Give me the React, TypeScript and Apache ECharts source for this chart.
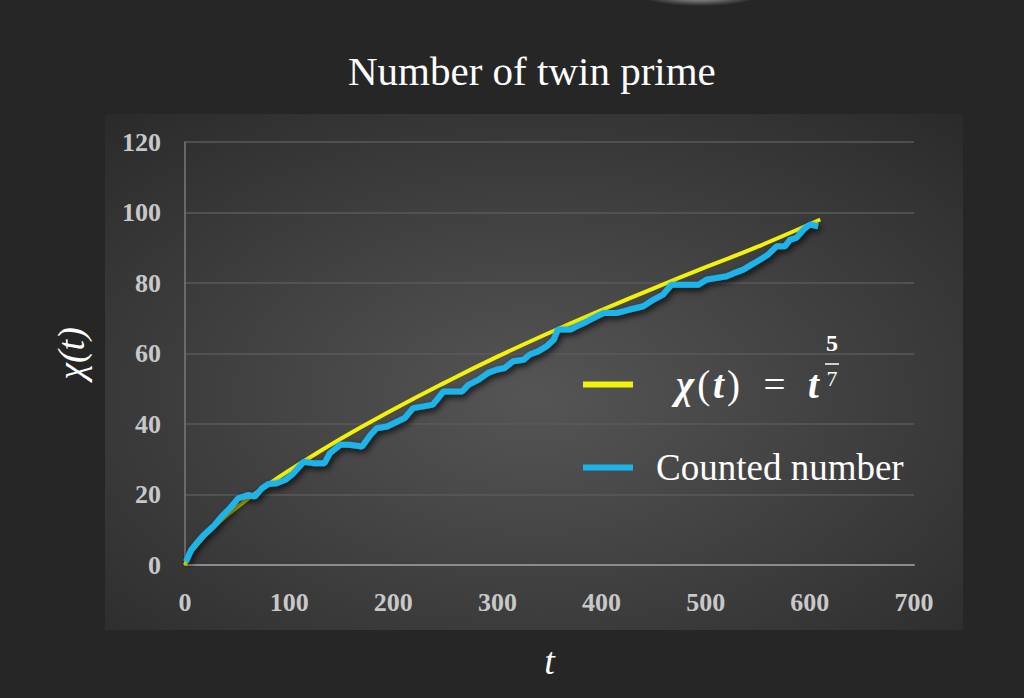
import React, { useEffect, useRef } from "react";
import * as echarts from "echarts";

const titleText = "Number of twin prime";
const formulaName = "χ(t) = t^(5/7)";
const countedName = "Counted number";

const xTicks = [0, 100, 200, 300, 400, 500, 600, 700];
const yTicks = [0, 20, 40, 60, 80, 100, 120];

// yellow curve
const formulaT = [0, 5, 10, 20, 30, 50, 75, 100, 150, 200, 250, 300, 350, 400, 450, 500, 550, 610];
const formulaY = [0, 3.2, 5.2, 8.5, 11.4, 16.4, 21.8, 26.8, 35.9, 44.1, 51.8, 59.1, 65.9, 72.3, 78.5, 84.5, 90.3, 98];

// blue stepped line
const countedT = [1, 6, 12, 18, 27, 35, 43, 51, 61, 67, 74, 80, 88, 96, 104, 114, 123, 134, 139, 149, 158, 170, 178, 184, 194, 206, 211, 219, 229, 238, 248, 259, 266, 272, 282, 291, 299, 307, 315, 325, 331, 339, 347, 354, 358, 370, 376, 386, 395, 402, 415, 426, 440, 450, 459, 467, 478, 493, 501, 510, 520, 527, 536, 544, 552, 560, 568, 576, 581, 587, 594, 600, 608];
const countedY = [1, 4.3, 6.5, 8.5, 10.9, 13.7, 16.1, 18.9, 19.9, 19.4, 21.8, 23, 23.2, 24.1, 26, 29.3, 28.9, 28.9, 31.7, 34.1, 34.1, 33.6, 36.9, 38.8, 39.3, 41, 41.7, 44.5, 45, 45.5, 49.2, 49.2, 49.2, 51.1, 52.6, 54.5, 55.4, 55.9, 57.8, 58.2, 59.7, 60.6, 62, 63.9, 66.8, 66.8, 67.7, 69.1, 70.5, 71.5, 71.5, 72.4, 73.4, 75.3, 76.7, 79.5, 79.5, 79.5, 81, 81.4, 81.9, 82.8, 83.8, 85.2, 86.6, 88.1, 90.4, 90.4, 92.3, 92.8, 95.2, 96.6, 96.1];

const SERIF = "'Liberation Serif', 'DejaVu Serif', serif";

export default function App() {
  const ref = useRef<HTMLDivElement>(null);
  useEffect(() => {
    if (!ref.current) return;
    const chart = echarts.init(ref.current, null, { renderer: "svg" });
    const formulaData = formulaT.map((t, i) => [t, formulaY[i]]);
    const countedData = countedT.map((t, i) => [t, countedY[i]]);
    chart.setOption({
      animation: false,
      backgroundColor: "#262626",
      title: {
        text: titleText,
        left: 348,
        top: 50,
        padding: 0,
        textStyle: { fontFamily: SERIF, fontSize: 41, fontWeight: "normal", color: "#ffffff" },
      },
      graphic: [
        {
          type: "rect",
          z: -10,
          shape: { x: 105, y: 114, width: 858, height: 516 },
          style: {
            fill: {
              type: "radial",
              x: 0.5,
              y: 0.55,
              r: 0.75,
              colorStops: [
                { offset: 0, color: "#555555" },
                { offset: 1, color: "#2a2a2a" },
              ],
            },
          },
        },
        {
          type: "ellipse",
          z: -10,
          shape: { cx: 700, cy: -4, rx: 58, ry: 10 },
          style: {
            fill: {
              type: "radial",
              x: 0.5,
              y: 0.5,
              r: 0.5,
              colorStops: [
                { offset: 0, color: "rgba(230,230,230,0.75)" },
                { offset: 1, color: "rgba(230,230,230,0)" },
              ],
            },
          },
        },
        {
          type: "text",
          x: 832,
          y: 343,
          style: { text: "5", fontFamily: SERIF, fontWeight: "bold", fontSize: 24, fill: "#ffffff", align: "center", verticalAlign: "middle" },
        },
        {
          type: "line",
          shape: { x1: 825, y1: 364, x2: 839, y2: 364 },
          style: { stroke: "#ffffff", lineWidth: 1.5 },
        },
        {
          type: "text",
          x: 832,
          y: 378,
          style: { text: "7", fontFamily: SERIF, fontSize: 22, fill: "#ffffff", align: "center", verticalAlign: "middle" },
        },
      ],
      legend: {
        orient: "vertical",
        left: 578,
        top: 360,
        itemWidth: 50,
        itemHeight: 6,
        itemGap: 45,
        icon: "rect",
        data: [formulaName, countedName],
        formatter: (name: string) =>
          name === formulaName
            ? "{s|}{x|χ}{p|(}{x|t}{p|)}{p|  =  }{x|t}"
            : "{b|" + name + "}",
        textStyle: {
          color: "#ffffff",
          rich: {
            s: { width: 37, fontSize: 38, lineHeight: 40 },
            x: { fontFamily: SERIF, fontStyle: "italic", fontWeight: "bold", fontSize: 39, color: "#ffffff", padding: [0, 1, 0, 1], lineHeight: 40 },
            p: { fontFamily: SERIF, fontSize: 39, color: "#ffffff", padding: [0, 2, 0, 2], lineHeight: 40 },
            b: { fontFamily: SERIF, fontSize: 37, color: "#ffffff", padding: [0, 0, 0, 18], lineHeight: 40 },
          },
        },
      },
      grid: { left: 185, right: 110, top: 142, bottom: 133 },
      xAxis: {
        type: "value",
        min: xTicks[0],
        max: xTicks[xTicks.length - 1],
        interval: 100,
        name: "t",
        nameLocation: "middle",
        nameGap: 77,
        nameTextStyle: { fontFamily: SERIF, fontStyle: "italic", fontSize: 38, color: "#ffffff" },
        axisLine: { show: true, lineStyle: { color: "#8c8c8c", width: 2 } },
        axisTick: { show: false },
        splitLine: { show: false },
        axisLabel: { fontFamily: SERIF, fontWeight: "bold", fontSize: 26, color: "#c8c8c8", margin: 24 },
      },
      yAxis: {
        type: "value",
        min: yTicks[0],
        max: yTicks[yTicks.length - 1],
        interval: 20,
        name: "χ(t)",
        nameLocation: "middle",
        nameRotate: 90,
        nameGap: 95,
        nameTextStyle: { fontFamily: SERIF, fontStyle: "italic", fontSize: 38, color: "#ffffff" },
        axisLine: { show: true, lineStyle: { color: "#7a7a7a", width: 1.5 } },
        axisTick: { show: false },
        splitLine: { show: true, lineStyle: { color: "#5a5a5a", width: 1.5 } },
        axisLabel: { fontFamily: SERIF, fontWeight: "bold", fontSize: 26, color: "#c8c8c8", margin: 24 },
      },
      series: [
        {
          name: formulaName,
          type: "line",
          data: formulaData,
          smooth: true,
          showSymbol: false,
          color: "#f2f20a",
          lineStyle: { color: "#f2f20a", width: 4 },
          z: 2,
        },
        {
          name: countedName,
          type: "line",
          data: countedData,
          showSymbol: false,
          color: "#1ab4ea",
          lineStyle: {
            color: "#1ab4ea",
            width: 6,
            shadowColor: "rgba(0,0,0,0.8)",
            shadowBlur: 6,
            shadowOffsetX: 2,
            shadowOffsetY: 3,
          },
          z: 3,
        },
      ],
    });
    return () => chart.dispose();
  }, []);
  return (
    <div
      ref={ref}
      style={{ position: "fixed", left: 0, top: 0, width: 1024, height: 698 }}
    />
  );
}
